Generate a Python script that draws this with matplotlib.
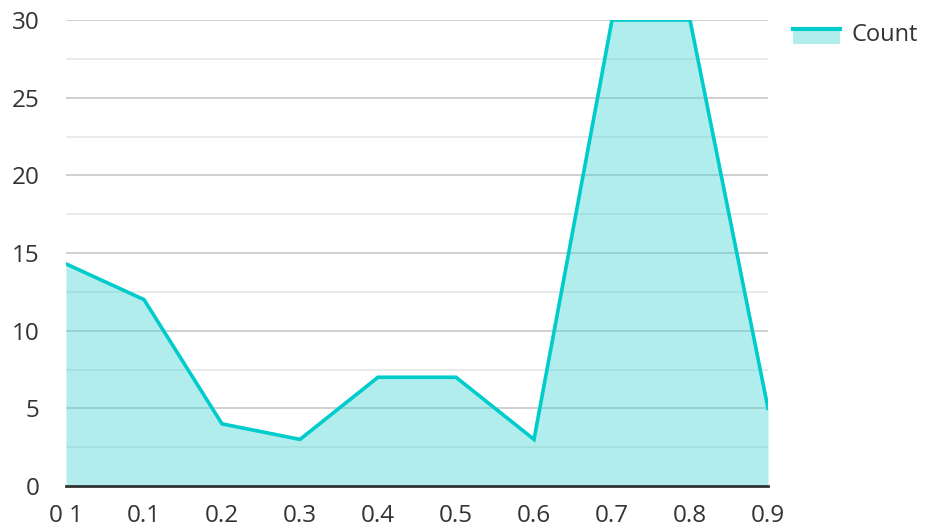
import matplotlib
matplotlib.use("Agg")
import matplotlib.pyplot as plt
from matplotlib.legend_handler import HandlerBase
from matplotlib.patches import Rectangle
from matplotlib.lines import Line2D
from matplotlib.ticker import MultipleLocator

plt.rcParams['font.family'] = ['Open Sans', 'DejaVu Sans']

categories = ["0 1", "0.1", "0.2", "0.3", "0.4", "0.5", "0.6", "0.7", "0.8", "0.9"]
counts = [14.3, 12, 4, 3, 7, 7, 3, 30, 30, 5]

LINE_COLOR = "#00cccc"
FILL_COLOR = (63 / 255, 212 / 255, 212 / 255, 0.4)  # ~#b2eeee over white


class AreaHandler(HandlerBase):
    """Legend key: filled box with the line on its top edge."""
    def create_artists(self, legend, orig_handle, xdescent, ydescent,
                       width, height, fontsize, trans):
        top = height * 0.75
        rect = Rectangle((-xdescent, -ydescent - 2), width, top + 2, facecolor=FILL_COLOR,
                         edgecolor="none", transform=trans)
        line = Line2D([-xdescent, -xdescent + width], [top - ydescent] * 2,
                      color=LINE_COLOR, lw=3, transform=trans)
        return [rect, line]


fig = plt.figure(figsize=(9.26, 5.28), dpi=100)
ax = fig.add_axes([66 / 926, 42 / 528, (768 - 66) / 926, (486 - 20) / 528])

x = list(range(len(categories)))
ax.fill_between(x, counts, 0, color=FILL_COLOR, lw=0, zorder=2)
line, = ax.plot(x, counts, color=LINE_COLOR, lw=2.6, zorder=3, solid_joinstyle="miter")

ax.set_xlim(0, len(categories) - 1)
ax.set_ylim(0, 30)
ax.set_xticks(x)
ax.set_xticklabels(categories)
ax.yaxis.set_major_locator(MultipleLocator(5))
ax.yaxis.set_minor_locator(MultipleLocator(2.5))

ax.set_axisbelow(True)
ax.grid(axis="y", which="major", color="#c8c8c8", lw=1.2, zorder=0)
ax.grid(axis="y", which="minor", color="#e6e6e6", lw=1.2, zorder=0)

for s in ("left", "right", "top"):
    ax.spines[s].set_visible(False)
ax.spines["bottom"].set_color("#333333")
ax.spines["bottom"].set_linewidth(2)
ax.spines["bottom"].set_zorder(4)

ax.tick_params(axis="both", which="both", length=0, labelsize=17.5, labelcolor="#333333")
ax.tick_params(axis="y", pad=19)
ax.tick_params(axis="x", pad=13)

fig.legend([line], ["Count"], handler_map={line: AreaHandler()},
           loc="upper left", bbox_to_anchor=(772 / 926, 1 - 2 / 528),
           frameon=False, fontsize=17, handlelength=2.0, handletextpad=0.45,
           labelcolor="#333333")

fig.savefig("out.png", dpi=100)
